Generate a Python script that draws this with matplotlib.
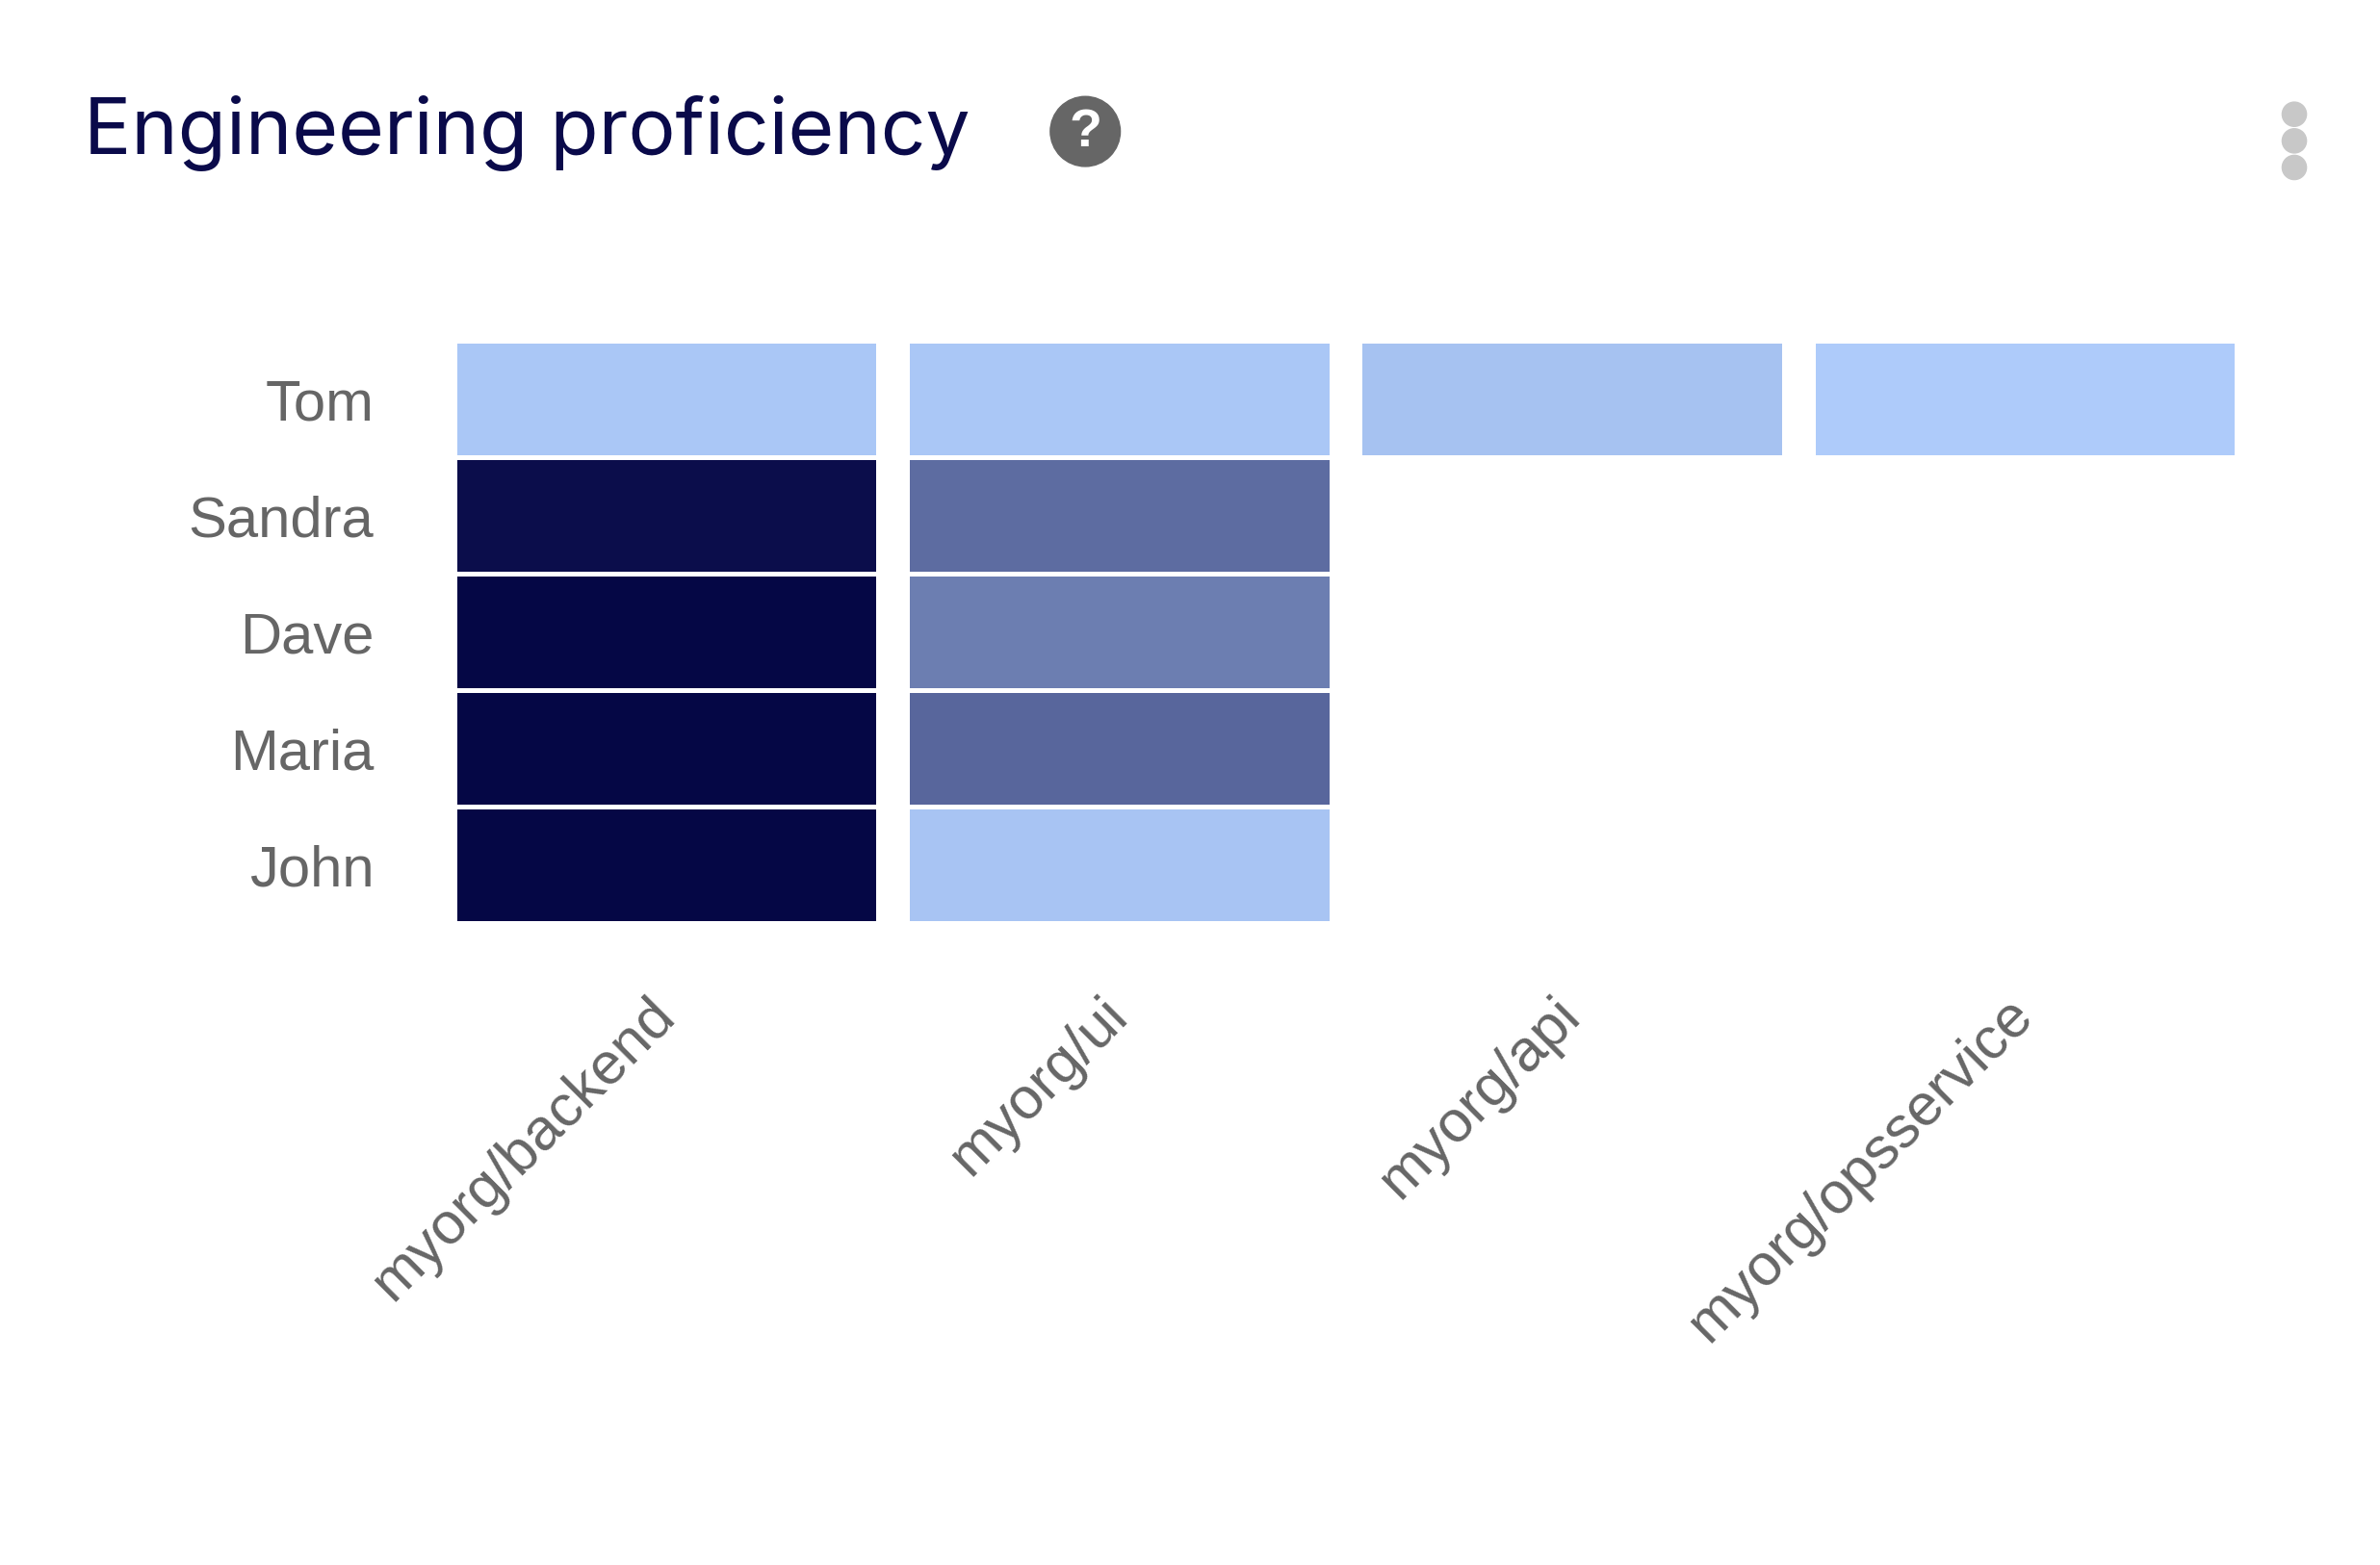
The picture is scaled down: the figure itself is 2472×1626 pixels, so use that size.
import numpy as np
import matplotlib
matplotlib.use("Agg")
import matplotlib.pyplot as plt
from matplotlib.colors import LinearSegmentedColormap, Normalize
from matplotlib.patches import Ellipse

people = ["Tom", "Sandra", "Dave", "Maria", "John"]
repos = ["myorg/backend", "myorg/ui", "myorg/api", "myorg/opsservice"]
values = [
    [3, 3, 6, 0],
    [97, 57, None, None],
    [100, 49, None, None],
    [100, 59, None, None],
    [100, 5, None, None],
]

cmap = LinearSegmentedColormap.from_list("p", ["#aecbfa", "#6b7cb0", "#050745"])
norm = Normalize(0, 100)

W, H = 24.72, 16.26
fig = plt.figure(figsize=(W, H), dpi=100)
ax = fig.add_axes([0.192, 0.41, 0.747, 0.372])
for r, row in enumerate(values):
    for c, v in enumerate(row):
        if v is None:
            continue
        ax.bar(c, 0.955, width=0.926, bottom=r - 0.4775, color=cmap(norm(v)))
ax.set_xlim(-0.463, len(repos) - 0.537)
ax.set_ylim(len(people) - 0.5, -0.5)
ax.set_yticks(range(len(people)))
ax.set_yticklabels(people, fontsize=43, color="#666666", family="Liberation Sans")
ax.set_xticks(range(len(repos)))
ax.set_xticklabels(repos, fontsize=44, color="#666666", family="Liberation Sans",
                   rotation=45, ha="right", va="center", rotation_mode="anchor")
ax.tick_params(length=0, axis="y", pad=62)
ax.tick_params(length=0, axis="x", pad=62)
for s in ax.spines.values():
    s.set_visible(False)

fig.text(0.035, 0.915, "Engineering proficiency", fontsize=59, color="#0a0a4a",
         family="Inter", va="center")
r = 0.0147
fig.patches.append(Ellipse((0.456, 0.916), 2 * r, 2 * r * W / H, transform=fig.transFigure,
                           color="#666666", zorder=3))
fig.text(0.456, 0.915, "?", fontsize=40, color="white", ha="center", va="center",
         family="Liberation Sans", weight="bold", zorder=4)
rd = 0.0051
for yy in (0.927, 0.910, 0.893):
    fig.patches.append(Ellipse((0.964, yy), 2 * rd, 2 * rd * W / H, transform=fig.transFigure,
                               color="#c8c8c8"))
fig.savefig("out.png", dpi=100, facecolor="white")
